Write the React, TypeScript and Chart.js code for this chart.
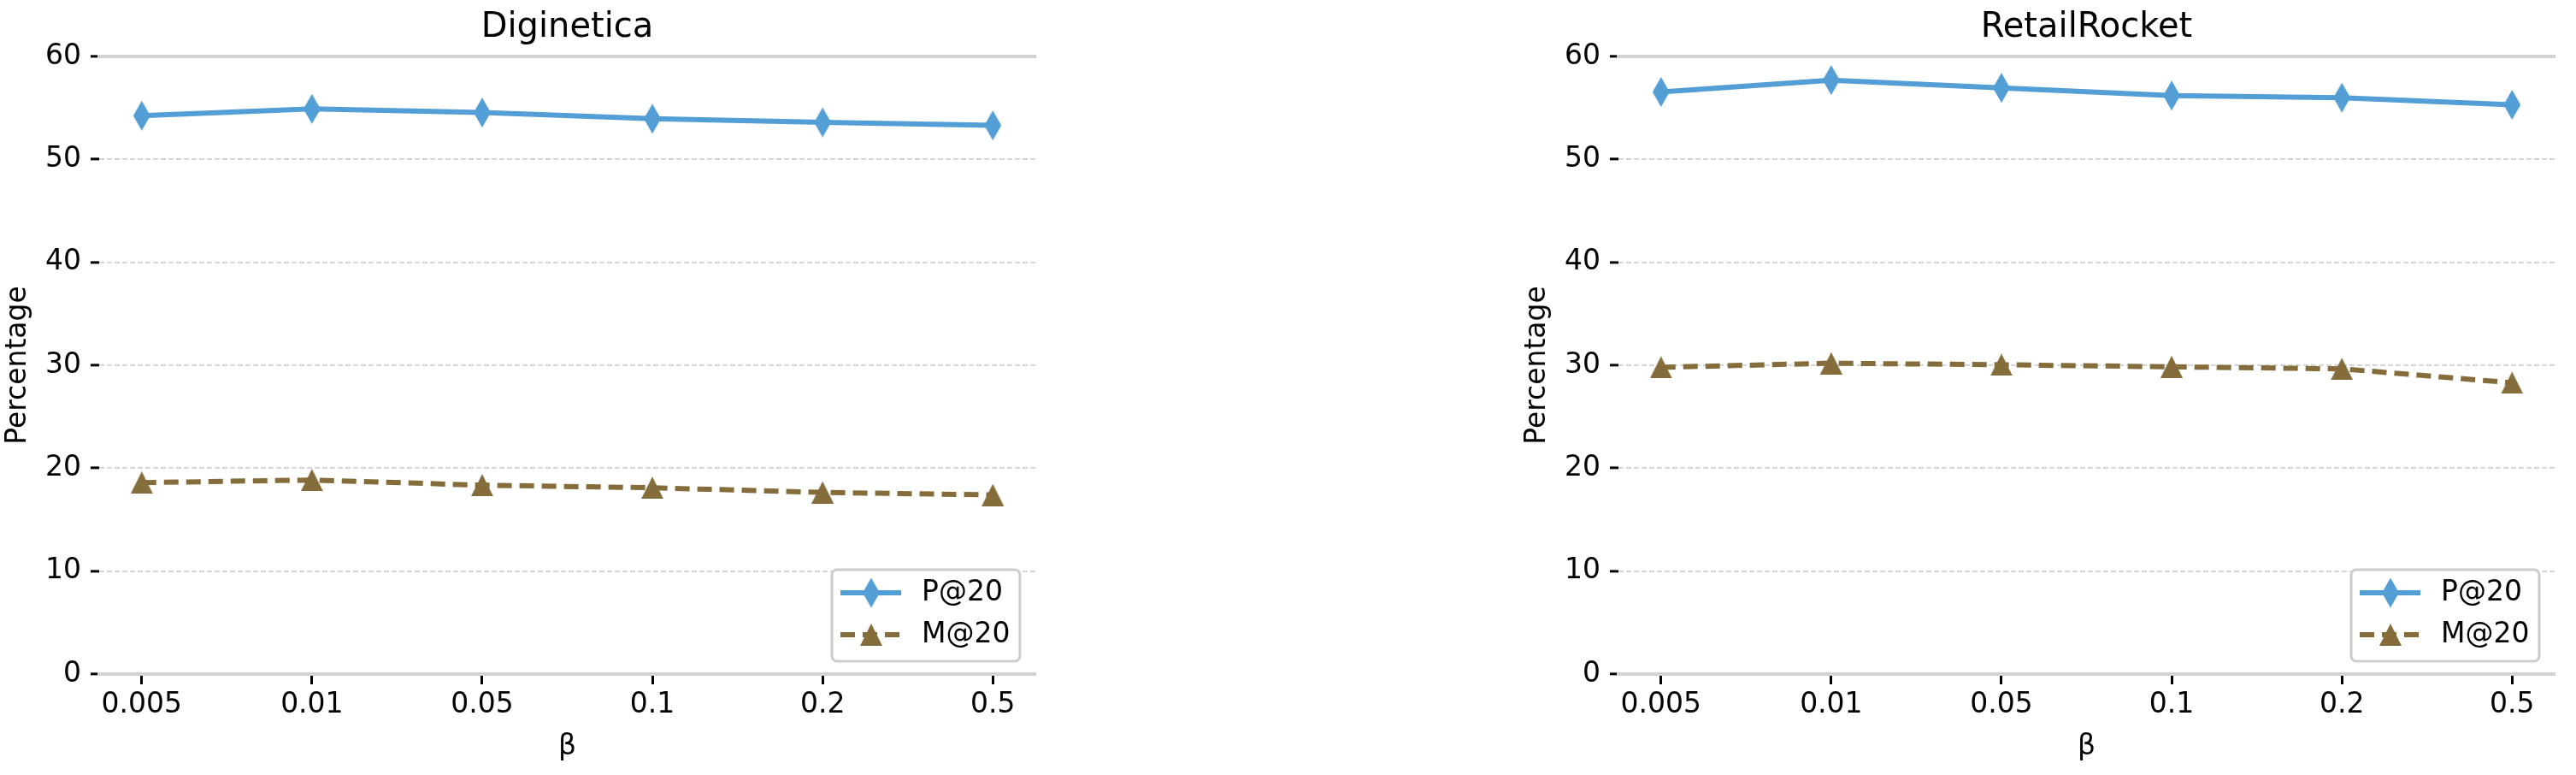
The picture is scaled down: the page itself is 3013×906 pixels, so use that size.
import React, { useEffect, useRef } from 'react';
import { Chart, registerables } from 'chart.js';

Chart.register(...registerables);

// ---------- data ----------
const betaLabels = ['0.005', '0.01', '0.05', '0.1', '0.2', '0.5'];
const yTicks = [0, 10, 20, 30, 40, 50, 60];
const seriesLabels = ['P@20', 'M@20'];

const digineticaP = [54.25, 54.9, 54.55, 53.95, 53.6, 53.3];
const digineticaM = [18.6, 18.85, 18.35, 18.1, 17.65, 17.4];

const retailRocketP = [56.55, 57.7, 56.95, 56.2, 56.0, 55.3];
const retailRocketM = [29.8, 30.2, 30.05, 29.85, 29.65, 28.3];

// ---------- styles ----------
const BLUE = '#539ed5';
const BROWN = '#846d3a';
const FONT = '"DejaVu Sans"';

function makeDiamond(): HTMLCanvasElement {
  const c = document.createElement('canvas');
  c.width = 20;
  c.height = 35;
  const g = c.getContext('2d')!;
  g.fillStyle = BLUE;
  g.beginPath();
  g.moveTo(10, 0);
  g.lineTo(20, 17.5);
  g.lineTo(10, 35);
  g.lineTo(0, 17.5);
  g.closePath();
  g.fill();
  return c;
}

function makeTriangle(): HTMLCanvasElement {
  const c = document.createElement('canvas');
  c.width = 26;
  c.height = 26;
  const g = c.getContext('2d')!;
  g.fillStyle = BROWN;
  g.beginPath();
  g.moveTo(13, 0);
  g.lineTo(26, 26);
  g.lineTo(0, 26);
  g.closePath();
  g.fill();
  return c;
}

const boxLegend = {
  id: 'boxLegend',
  afterDatasetsDraw(chart: any) {
    const { ctx, chartArea } = chart;
    const w = 220;
    const h = 107;
    const x = chartArea.right - 18 - w;
    const y = chartArea.bottom - 15 - h;
    ctx.save();
    const r = 6;
    ctx.beginPath();
    ctx.moveTo(x + r, y);
    ctx.lineTo(x + w - r, y);
    ctx.arcTo(x + w, y, x + w, y + r, r);
    ctx.lineTo(x + w, y + h - r);
    ctx.arcTo(x + w, y + h, x + w - r, y + h, r);
    ctx.lineTo(x + r, y + h);
    ctx.arcTo(x, y + h, x, y + h - r, r);
    ctx.lineTo(x, y + r);
    ctx.arcTo(x, y, x + r, y, r);
    ctx.closePath();
    ctx.fillStyle = 'rgba(255,255,255,0.9)';
    ctx.fill();
    ctx.lineWidth = 3;
    ctx.strokeStyle = '#cccccc';
    ctx.stroke();

    chart.data.datasets.forEach((ds: any, i: number) => {
      const cy = y + 27 + i * 49;
      ctx.beginPath();
      ctx.setLineDash(ds.borderDash || []);
      ctx.lineWidth = ds.borderWidth;
      ctx.strokeStyle = ds.borderColor;
      ctx.moveTo(x + 10, cy);
      ctx.lineTo(x + 81, cy);
      ctx.stroke();
      ctx.setLineDash([]);
      const img = ds.pointStyle as HTMLCanvasElement;
      ctx.drawImage(img, x + 46 - img.width / 2, cy - img.height / 2);
      ctx.fillStyle = '#000';
      ctx.font = `33px ${FONT}`;
      ctx.textBaseline = 'middle';
      ctx.textAlign = 'left';
      ctx.fillText(ds.label, x + 105, cy);
    });
    ctx.restore();
  },
};

type PanelProps = {
  title: string;
  p: number[];
  m: number[];
  left: number;
  width: number;
  padRight: number;
};

function Panel({ title, p, m, left, width, padRight }: PanelProps) {
  const ref = useRef<HTMLCanvasElement | null>(null);

  useEffect(() => {
    if (!ref.current) return;
    const diamond = makeDiamond();
    const triangle = makeTriangle();

    const chart = new Chart(ref.current, {
      type: 'line',
      data: {
        datasets: [
          {
            label: seriesLabels[0],
            data: p.map((v, i) => ({ x: i, y: v })),
            borderColor: BLUE,
            backgroundColor: BLUE,
            borderWidth: 6,
            pointStyle: diamond as any,
            pointRadius: 10,
            pointHoverRadius: 10,
            tension: 0,
            fill: false,
            xAxisID: 'x',
            yAxisID: 'y',
          },
          {
            label: seriesLabels[1],
            data: m.map((v, i) => ({ x: i, y: v })),
            borderColor: BROWN,
            backgroundColor: BROWN,
            borderWidth: 6,
            borderDash: [17, 9],
            pointStyle: triangle as any,
            pointRadius: 10,
            pointHoverRadius: 10,
            tension: 0,
            fill: false,
            xAxisID: 'x',
            yAxisID: 'y',
          },
        ],
      },
      options: {
        responsive: false,
        maintainAspectRatio: false,
        animation: false,
        events: [],
        layout: { padding: { left: 0, right: padRight, top: 0, bottom: 0 } },
        font: { family: FONT, size: 33 },
        color: '#000',
        plugins: {
          legend: { display: false },
          tooltip: { enabled: false },
          title: {
            display: true,
            text: title,
            fullSize: false,
            color: '#000',
            font: { family: FONT, size: 40, weight: 'normal' },
            padding: { top: 9, bottom: 9 },
          },
        },
        scales: {
          x: {
            type: 'linear',
            axis: 'x',
            position: 'bottom',
            min: -0.25,
            max: 5.25,
            bounds: 'data',
            afterBuildTicks: (s: any) => {
              s.ticks = betaLabels.map((_, i) => ({ value: i }));
            },
            afterFit: (s: any) => {
              s.height = 118;
            },
            ticks: {
              autoSkip: false,
              maxRotation: 0,
              padding: 5,
              color: '#000',
              font: { family: FONT, size: 33 },
              callback: (v: any) => betaLabels[v as number],
            },
            grid: {
              drawOnChartArea: false,
              drawTicks: true,
              tickLength: 12,
              tickWidth: 3,
              tickColor: '#000',
            },
            border: { display: true, color: '#d3d3d3', width: 4 },
            title: {
              display: true,
              text: 'β',
              color: '#000',
              font: { family: FONT, size: 33 },
              padding: { top: 0, bottom: 13 },
            },
          },
          x2: {
            type: 'linear',
            axis: 'x',
            position: 'top',
            min: -0.25,
            max: 5.25,
            afterFit: (s: any) => {
              s.height = 0;
            },
            ticks: { display: false },
            grid: { drawOnChartArea: false, drawTicks: false },
            border: { display: true, color: '#d3d3d3', width: 4 },
          },
          y: {
            type: 'linear',
            position: 'left',
            min: 0,
            max: 60,
            afterBuildTicks: (s: any) => {
              s.ticks = yTicks.map((v) => ({ value: v }));
            },
            afterFit: (s: any) => {
              s.width = 116;
            },
            ticks: {
              padding: 11,
              color: '#000',
              font: { family: FONT, size: 33 },
            },
            grid: {
              color: (c: any) =>
                c.tick && (c.tick.value === 0 || c.tick.value === 60) ? 'rgba(0,0,0,0)' : '#d0d0d0',
              lineWidth: 1.7,
              drawTicks: true,
              tickLength: 10,
              tickWidth: 3,
              tickColor: '#000',
            },
            border: { display: false, dash: [6, 3] },
            title: {
              display: true,
              text: 'Percentage',
              color: '#000',
              font: { family: FONT, size: 33 },
              padding: { top: 1.3, bottom: 0 },
            },
          },
        },
      } as any,
      plugins: [boxLegend],
    });

    return () => chart.destroy();
  }, [title, p, m, padRight]);

  return (
    <canvas
      ref={ref}
      width={width}
      height={906}
      style={{ position: 'absolute', left, top: 0, width, height: 906 }}
    />
  );
}

export default function App() {
  return (
    <div
      style={{
        position: 'absolute',
        left: 0,
        top: 0,
        width: 3013,
        height: 906,
        background: '#fff',
        overflow: 'hidden',
      }}
    >
      <Panel title="Diginetica" p={digineticaP} m={digineticaM} left={0} width={1240} padRight={29} />
      <Panel title="RetailRocket" p={retailRocketP} m={retailRocketM} left={1777} width={1236} padRight={25} />
    </div>
  );
}
